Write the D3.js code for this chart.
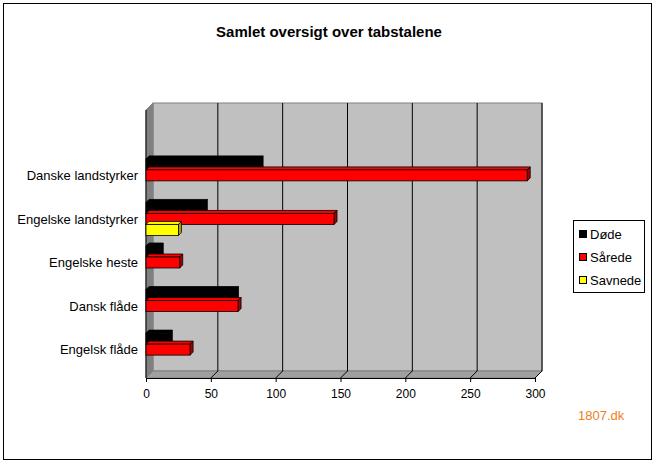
<!DOCTYPE html>
<html><head><meta charset="utf-8">
<script src="https://cdn.jsdelivr.net/npm/d3@7"></script>
<style>body{margin:0;background:#fff;font-family:"Liberation Sans",Arial,sans-serif}</style>
</head><body>
<svg id="chart" width="657" height="465"></svg>
<script>
// data
var categories = ["Danske landstyrker", "Engelske landstyrker", "Engelske heste", "Dansk flåde", "Engelsk flåde"];
var seriesNames = ["Døde", "Sårede", "Savnede"];
var seriesColors = ["#000000", "#ff0000", "#ffff00"];
var doede = [88, 45, 11, 69, 18];
var saarede = [294, 145, 26, 71, 34];
var savnede = [0, 25, 0, 0, 0];
var xTicks = [0, 50, 100, 150, 200, 250, 300];

var series = [doede, saarede, savnede];
var svg = d3.select("#chart");
var depth = 7, bd = 3; // wall depth and bar depth offsets

svg.append("rect").attr("x", 3.5).attr("y", 3.5).attr("width", 648).attr("height", 456)
    .attr("fill", "#fff").attr("stroke", "#000");

svg.append("text").attr("x", 329).attr("y", 37).attr("text-anchor", "middle")
    .attr("font-weight", "bold").attr("font-size", 15).text("Samlet oversigt over tabstalene");

var x = d3.scaleLinear().domain([0, 300]).range([146, 535]);
var y = d3.scaleBand().domain(categories).range([148, 378]).padding(0.28);
var top0 = 110, bottom = 378;

// back wall
svg.append("rect").attr("x", x(0) + depth).attr("y", top0 - depth)
    .attr("width", x(300) - x(0)).attr("height", bottom - top0)
    .attr("fill", "#c0c0c0").attr("stroke", "#808080");
// left side wall
svg.append("path").attr("d", d3.line()([[x(0), top0], [x(0) + depth, top0 - depth], [x(0) + depth, bottom - depth], [x(0), bottom]]) + "Z")
    .attr("fill", "#808080").attr("stroke", "#808080");
// floor
svg.append("path").attr("d", d3.line()([[x(0), bottom], [x(0) + depth, bottom - depth], [x(300) + depth, bottom - depth], [x(300), bottom]]) + "Z")
    .attr("fill", "#a0a0a0").attr("stroke", "#808080");

// gridlines
xTicks.forEach(function (t) {
    if (t === 0) return;
    svg.append("polyline").attr("points", [[x(t), bottom], [x(t) + depth, bottom - depth], [x(t) + depth, top0 - depth]].join(" "))
        .attr("fill", "none").attr("stroke", "#000");
});

// x axis
var ax = svg.append("g").attr("transform", "translate(0," + bottom + ")")
    .call(d3.axisBottom(x).tickValues(xTicks).tickSize(4).tickSizeOuter(0));
ax.selectAll("text").attr("font-size", 12).attr("font-family", "Liberation Sans, Arial").attr("fill", "#000").attr("dy", "1.1em");
ax.select(".domain").attr("stroke", "#000");
// y axis
var ay = svg.append("g").attr("transform", "translate(" + x(0) + ",0)")
    .call(d3.axisLeft(y).tickSize(0).tickPadding(8));
ay.select(".domain").remove();
ay.selectAll("text").attr("font-size", 13).attr("font-family", "Liberation Sans, Arial").attr("fill", "#000");
svg.append("line").attr("x1", x(0)).attr("x2", x(0)).attr("y1", top0).attr("y2", bottom).attr("stroke", "#000");

// bars
var bh = 11;
categories.forEach(function (c, i) {
    var y0 = y(c) + y.bandwidth() / 2 - 17;
    series.forEach(function (s, j) {
        var v = s[i];
        if (!v) return;
        var x0 = x(0), x1 = x(v), yt = y0 + j * bh, col = seriesColors[j];
        var dark = d3.color(col).darker(1.2);
        var g = svg.append("g").attr("stroke", "#000").attr("stroke-width", 0.8);
        g.append("path").attr("d", d3.line()([[x0, yt], [x0 + bd, yt - bd], [x1 + bd, yt - bd], [x1, yt]]) + "Z").attr("fill", col);
        g.append("path").attr("d", d3.line()([[x1, yt], [x1 + bd, yt - bd], [x1 + bd, yt + bh - bd], [x1, yt + bh]]) + "Z").attr("fill", dark);
        g.append("rect").attr("x", x0).attr("y", yt).attr("width", x1 - x0).attr("height", bh).attr("fill", col);
    });
});

// legend
var lg = svg.append("g");
lg.append("rect").attr("x", 573.5).attr("y", 220.5).attr("width", 71).attr("height", 72).attr("fill", "#fff").attr("stroke", "#000");
seriesNames.forEach(function (n, j) {
    var yy = 235 + j * 23;
    lg.append("rect").attr("x", 579.5).attr("y", yy - 4.5).attr("width", 7).attr("height", 7)
        .attr("fill", seriesColors[j]).attr("stroke", "#000");
    lg.append("text").attr("x", 590).attr("y", yy + 4).attr("font-size", 13).text(n);
});

svg.append("text").attr("x", 578).attr("y", 420).attr("font-size", 13).attr("fill", "#f08020").text("1807.dk");
</script>
</body></html>
